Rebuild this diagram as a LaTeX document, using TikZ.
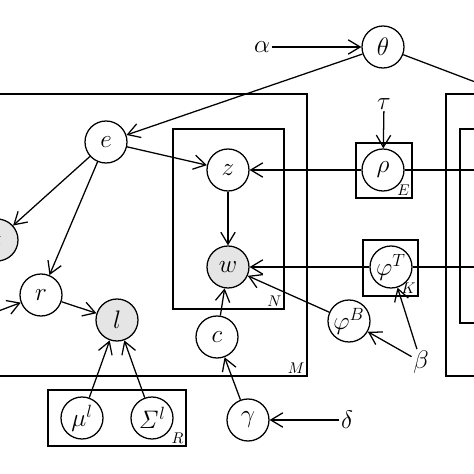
\RequirePackage{fix-cm}
\documentclass[tikz,border=0pt]{standalone}
\usetikzlibrary{arrows.meta}

\tikzset{
    var/.style = {circle, draw, line width=0.9pt, minimum size=1.05cm, inner sep=0pt,
                  font=\fontsize{18}{21}\selectfont},
    obs/.style = {var, fill=gray!20},
    hyper/.style = {inner sep=1pt, font=\fontsize{18}{21}\selectfont},
    platelabel/.style = {anchor=south east, inner sep=1.5pt, font=\fontsize{11}{13}\selectfont},
    edge/.style = {line width=0.9pt, -{Straight Barb[length=3mm, width=3.6mm]}},
    plain/.style = {line width=0.9pt}
}

\begin{document}
\begin{tikzpicture}[x=0.025cm, y=-0.025cm]

    \useasboundingbox (0,0) rectangle (474,474);
    \clip (0,0) rectangle (474,474);

      %plates
      \draw[plain] (-100,94) rectangle (307,376);
      \draw[plain] (173,129) rectangle (284,309);
      \draw[plain] (356,143) rectangle (412,198);
      \draw[plain] (363,240) rectangle (418,296);
      \draw[plain] (48,390) rectangle (186,446);
      \draw[plain] (446,94) rectangle (620,376);
      \draw[plain] (460,129) rectangle (580,323);

      \node (M) at (307,376) [platelabel] {$M$};
      \node (N) at (284,309) [platelabel] {$N$};
      \node (E) at (412,198) [platelabel] {$E$};
      \node (K) at (418,296) [platelabel] {$K$};
      \node (R) at (186,446) [platelabel] {$R$};

      %hyperparameters
      \node (alpha) at (262,47) [hyper] {$\alpha$};
      \node (tau) at (384,104) [hyper] {$\tau$};
      \node (beta) at (421,362) [hyper] {$\beta$};
      \node (delta) at (347,420) [hyper] {$\delta$};

      %variables
      \node (theta) at (383,47) [var] {$\theta$};
      \node (e) at (106,142) [var] {$e$};
      \node (t) at (-3,240) [obs] {$t$};
      \node (r) at (41,295) [var] {$r$};
      \node (l) at (117,320) [obs] {$l$};
      \node (z) at (228,170) [var] {$z$};
      \node (w) at (228,267) [obs] {$w$};
      \node (c) at (217,337) [var] {$c$};
      \node (gamma) at (248,420) [var] {$\gamma$};
      \node (mu) at (82,418) [var] {$\mu^l$};
      \node (sigma) at (152,418) [var] {$\mathit{\Sigma}^l$};
      \node (rho) at (383,170) [var] {$\rho$};
      \node (phiT) at (391,267) [var] {$\varphi^T$};
      \node (phiB) at (349,321) [var] {$\varphi^B$};

      %loose ends outside the picture
      \path (520,99) coordinate (thetaout);
      \path (-60,333) coordinate (rin);
      \path (520,170) coordinate (rhoout);
      \path (520,267) coordinate (phiTout);

      %edges
      \draw[edge] (alpha) -- (theta);
      \draw[plain] (theta) -- (thetaout);
      \draw[edge] (theta) -- (e);
      \draw[edge] (e) -- (t);
      \draw[edge] (e) -- (r);
      \draw[edge] (e) -- (z);
      \draw[edge] (rin) -- (r);
      \draw[edge] (r) -- (l);
      \draw[edge] (mu) -- (l);
      \draw[edge] (sigma) -- (l);
      \draw[edge] (z) -- (w);
      \draw[edge] (c) -- (w);
      \draw[edge] (gamma) -- (c);
      \draw[edge] (delta) -- (gamma);
      \draw[edge] (tau) -- (rho);
      \draw[edge] (rho) -- (z);
      \draw[plain] (rho) -- (rhoout);
      \draw[edge] (phiT) -- (w);
      \draw[plain] (phiT) -- (phiTout);
      \draw[edge] (phiB) -- (w);
      \draw[edge] (beta) -- (phiB);
      \draw[edge] (beta) -- (phiT);

    \end{tikzpicture}
\end{document}
